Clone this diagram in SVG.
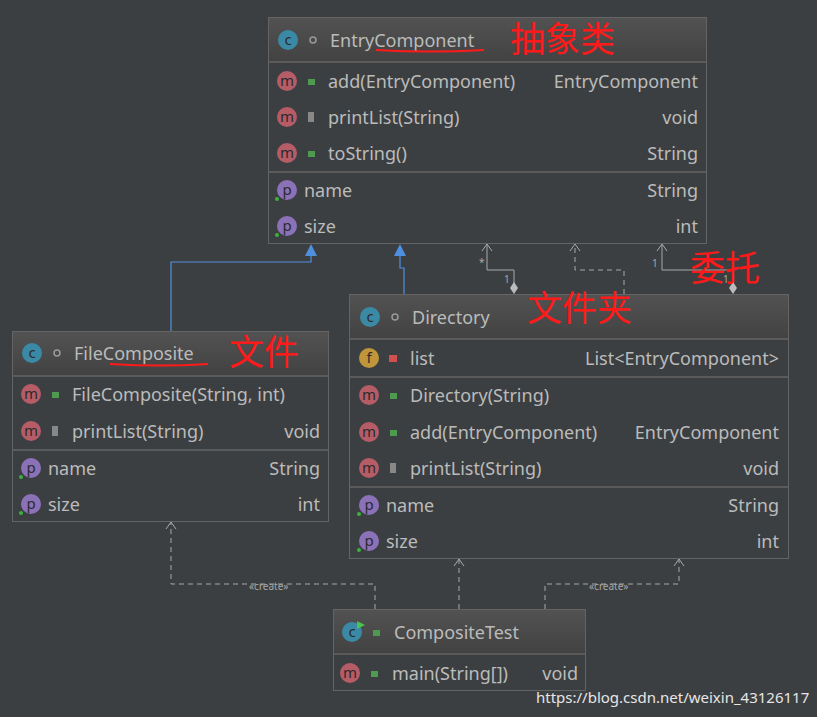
<svg xmlns="http://www.w3.org/2000/svg" width="817" height="717" viewBox="0 0 817 717">
<defs>
<linearGradient id="hg" x1="0" y1="0" x2="0" y2="1"><stop offset="0" stop-color="#525252"/><stop offset="1" stop-color="#424242"/></linearGradient>
</defs>
<style>
text{font-family:"Noto Sans","DejaVu Sans",sans-serif;font-size:18px;fill:#bbbbbb}
.r{text-anchor:end}
.box{fill:#3c3f41;stroke:#646464;stroke-width:1}
.hd{fill:url(#hg)}
.sep{stroke:#646464;stroke-width:1.5}
.ic{font-size:15px;fill:#2b2b2b;text-anchor:middle}
.m{fill:#b55c66}.p{fill:#8b72b8}.c{fill:#3b8aa5}.f{fill:#c1953a}
.inh{stroke:#4f8fe0;fill:none;stroke-width:1.2}
.tri{fill:#4f8fe0}
.ln{stroke:#a8a8a8;fill:none;stroke-width:1}
.dash{stroke:#a8a8a8;fill:none;stroke-width:1;stroke-dasharray:5,4}
.sm{font-size:10px;fill:#a8a8a8}
.red{fill:#ff1a1a;font-family:"Noto Sans CJK SC",sans-serif;font-size:35px}
.lk{fill:#4e9a4e}
</style>
<rect width="817" height="717" fill="#3c3f41"/>
<g id="connectors">
<polyline class="inh" points="171,331 171,262 311,262 311,255"/><path class="tri" d="M311,244 L317,256 L305,256 Z"/>
<polyline class="inh" points="404,294 404,268 400,268 400,255"/><path class="tri" d="M400,244 L406,256 L394,256 Z"/>
<polyline class="ln" points="514,284 514,270 487,270 487,244"/><polyline class="ln" points="482,251 487,244 492,251"/>
<path d="M514,282 L518,288 L514,294 L510,288 Z" fill="#bbbbbb"/>
<text class="sm" x="479" y="266">*</text><text class="sm" x="504" y="283">1</text>
<polyline class="dash" points="624,294 624,270 575,270 575,244"/><polyline class="ln" points="570,251 575,244 580,251"/>
<polyline class="ln" points="733,284 733,270 662,270 662,244"/><polyline class="ln" points="657,251 662,244 667,251"/>
<path d="M733,282 L737,288 L733,294 L729,288 Z" fill="#bbbbbb"/>
<text class="sm" x="652" y="267">1</text><text class="sm" x="723" y="283">1</text>
<polyline class="dash" points="375,609 375,584 171,584 171,522"/><polyline class="ln" points="166,529 171,522 176,529"/>
<text class="sm" x="249" y="590">«create»</text>
<polyline class="dash" points="459,609 459,559"/><polyline class="ln" points="454,566 459,559 464,566"/>
<polyline class="dash" points="545,609 545,584 679,584 679,559"/><polyline class="ln" points="674,566 679,559 684,566"/>
<text class="sm" x="589" y="590">«create»</text>
</g>
<g id="EntryComponent">
<rect class="box" x="268.5" y="17.5" width="438" height="226"/>
<rect class="hd" x="269" y="18" width="437" height="44"/>
<line class="sep" x1="269" y1="62" x2="706" y2="62"/>
<circle class="c" cx="288" cy="40" r="10"/><text class="ic" x="288" y="45">c</text>
<circle cx="313" cy="40" r="3" fill="none" stroke="#999" stroke-width="1.5"/>
<text x="330" y="47">EntryComponent</text>
<path d="M376,50 Q430,53 484,50" stroke="#ff1a1a" stroke-width="2" fill="none"/>
<circle class="m" cx="287" cy="81" r="10"/><text class="ic" x="287" y="86">m</text><rect class="lk" x="308" y="79" width="7" height="6"/>
<text x="328" y="88">add(EntryComponent)</text><text class="r" x="698" y="88">EntryComponent</text>
<circle class="m" cx="287" cy="117" r="10"/><text class="ic" x="287" y="122">m</text><rect x="308" y="112" width="6" height="10" fill="#888"/>
<text x="328" y="124">printList(String)</text><text class="r" x="698" y="124">void</text>
<circle class="m" cx="287" cy="153" r="10"/><text class="ic" x="287" y="158">m</text><rect class="lk" x="308" y="151" width="7" height="6"/>
<text x="328" y="160">toString()</text><text class="r" x="698" y="160">String</text>
<line class="sep" x1="269" y1="172" x2="706" y2="172"/>
<circle class="p" cx="287" cy="190" r="10"/><text class="ic" x="287" y="195">p</text><circle cx="277" cy="199" r="2" fill="#3bb33b"/>
<text x="304" y="197">name</text><text class="r" x="698" y="197">String</text>
<circle class="p" cx="287" cy="226" r="10"/><text class="ic" x="287" y="231">p</text><circle cx="277" cy="235" r="2" fill="#3bb33b"/>
<text x="304" y="233">size</text><text class="r" x="698" y="233">int</text>
</g>
<g id="Directory">
<rect class="box" x="349.5" y="294.5" width="439" height="264"/>
<rect class="hd" x="350" y="295" width="438" height="44"/>
<line class="sep" x1="350" y1="339" x2="788" y2="339"/>
<circle class="c" cx="370" cy="317" r="10"/><text class="ic" x="370" y="322">c</text>
<circle cx="395" cy="317" r="3" fill="none" stroke="#999" stroke-width="1.5"/>
<text x="412" y="324">Directory</text>
<circle class="f" cx="369" cy="358" r="10"/><text class="ic" x="369" y="363">f</text><rect x="389" y="355" width="8" height="7" fill="#d05050"/>
<text x="410" y="365">list</text><text class="r" x="779" y="365">List&lt;EntryComponent&gt;</text>
<line class="sep" x1="350" y1="377" x2="788" y2="377"/>
<circle class="m" cx="369" cy="395" r="10"/><text class="ic" x="369" y="400">m</text><rect class="lk" x="390" y="393" width="7" height="6"/>
<text x="410" y="402">Directory(String)</text>
<circle class="m" cx="369" cy="432" r="10"/><text class="ic" x="369" y="437">m</text><rect class="lk" x="390" y="430" width="7" height="6"/>
<text x="410" y="439">add(EntryComponent)</text><text class="r" x="779" y="439">EntryComponent</text>
<circle class="m" cx="369" cy="468" r="10"/><text class="ic" x="369" y="473">m</text><rect x="390" y="463" width="6" height="10" fill="#888"/>
<text x="410" y="475">printList(String)</text><text class="r" x="779" y="475">void</text>
<line class="sep" x1="350" y1="487" x2="788" y2="487"/>
<circle class="p" cx="369" cy="505" r="10"/><text class="ic" x="369" y="510">p</text><circle cx="359" cy="514" r="2" fill="#3bb33b"/>
<text x="386" y="512">name</text><text class="r" x="779" y="512">String</text>
<circle class="p" cx="369" cy="541" r="10"/><text class="ic" x="369" y="546">p</text><circle cx="359" cy="550" r="2" fill="#3bb33b"/>
<text x="386" y="548">size</text><text class="r" x="779" y="548">int</text>
</g>
<g id="FileComposite">
<rect class="box" x="12.5" y="331.5" width="316" height="190"/>
<rect class="hd" x="13" y="332" width="315" height="44"/>
<line class="sep" x1="13" y1="376" x2="328" y2="376"/>
<circle class="c" cx="32" cy="353" r="10"/><text class="ic" x="32" y="358">c</text>
<circle cx="57" cy="353" r="3" fill="none" stroke="#999" stroke-width="1.5"/>
<text x="74" y="360">FileComposite</text>
<path d="M110,364 Q160,367 208,364" stroke="#ff1a1a" stroke-width="2" fill="none"/>
<circle class="m" cx="31" cy="394" r="10"/><text class="ic" x="31" y="399">m</text><rect class="lk" x="52" y="392" width="7" height="6"/>
<text x="72" y="401">FileComposite(String, int)</text>
<circle class="m" cx="31" cy="431" r="10"/><text class="ic" x="31" y="436">m</text><rect x="52" y="426" width="6" height="10" fill="#888"/>
<text x="72" y="438">printList(String)</text><text class="r" x="320" y="438">void</text>
<line class="sep" x1="13" y1="450" x2="328" y2="450"/>
<circle class="p" cx="31" cy="468" r="10"/><text class="ic" x="31" y="473">p</text><circle cx="21" cy="477" r="2" fill="#3bb33b"/>
<text x="48" y="475">name</text><text class="r" x="320" y="475">String</text>
<circle class="p" cx="31" cy="504" r="10"/><text class="ic" x="31" y="509">p</text><circle cx="21" cy="513" r="2" fill="#3bb33b"/>
<text x="48" y="511">size</text><text class="r" x="320" y="511">int</text>
</g>
<g id="CompositeTest">
<rect class="box" x="333.5" y="609.5" width="252" height="81"/>
<rect class="hd" x="334" y="610" width="251" height="43"/>
<line class="sep" x1="334" y1="654" x2="585" y2="654"/>
<circle class="c" cx="352" cy="632" r="10"/><text class="ic" x="352" y="637">c</text><path d="M357,621 L365,625 L357,629 Z" fill="#4cc34c"/>
<rect class="lk" x="373" y="630" width="7" height="6"/>
<text x="394" y="639">CompositeTest</text>
<circle class="m" cx="350" cy="673" r="10"/><text class="ic" x="350" y="678">m</text><rect class="lk" x="371" y="671" width="7" height="6"/>
<text x="392" y="680">main(String[])</text><text class="r" x="578" y="680">void</text>
</g>
<text class="red" x="510" y="52">抽象类</text>
<text class="red" x="690" y="281">委托</text>
<text class="red" x="527" y="321">文件夹</text>
<text class="red" x="229" y="365">文件</text>
<text x="536" y="703" style="font-size:15px;fill:#e6e6e6">https://blog.csdn.net/weixin_43126117</text>
</svg>
